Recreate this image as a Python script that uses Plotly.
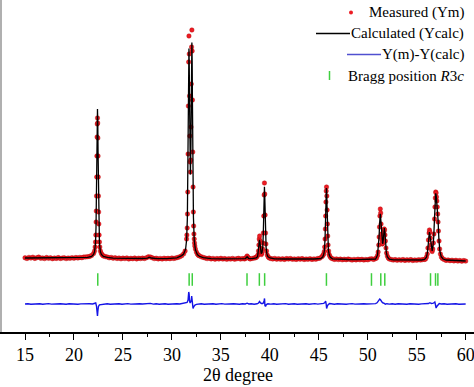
import plotly.graph_objects as go

# ---------------- data (intensity in arbitrary units) ----------------
measured = [
    (15.0, 74.2), (15.2, 73.5), (15.4, 74.6), (15.6, 73.9), (15.8, 74.8), (16.0, 73.6), (16.2, 74.3),
    (16.4, 74.9), (16.6, 73.8), (16.8, 74.1), (17.0, 73.4), (17.2, 74.5), (17.4, 73.7), (17.6, 74.2),
    (17.8, 73.3), (18.0, 74.0), (18.2, 73.6), (18.4, 74.4), (18.6, 73.5), (18.8, 73.9), (19.0, 74.2),
    (19.2, 73.4), (19.4, 74.0), (19.6, 73.7), (19.8, 74.3), (20.0, 73.8), (20.2, 74.5), (20.4, 74.0),
    (20.6, 74.6), (20.8, 74.3), (21.0, 74.9), (21.2, 75.1), (21.4, 75.3), (21.6, 75.6), (21.8, 76.6),
    (22.0, 78.5), (22.10, 81), (22.16, 85), (22.20, 90), (22.23, 97), (22.26, 110), (22.28, 121),
    (22.30, 136), (22.32, 155), (22.34, 176), (22.36, 195), (22.38, 208), (22.40, 214), (22.42, 209),
    (22.44, 194), (22.46, 176), (22.48, 155), (22.50, 136), (22.52, 120), (22.54, 108), (22.57, 97),
    (22.60, 90), (22.64, 85), (22.70, 81), (22.80, 78.5), (22.9, 77), (23.0, 76),
    (23.2, 75.4), (23.4, 75.0), (23.6, 74.2), (23.8, 74.6), (24.0, 73.8), (24.2, 74.3), (24.4, 73.5),
    (24.6, 74.0), (24.8, 73.2), (25.0, 73.9), (25.2, 73.4), (25.4, 74.1), (25.6, 73.0), (25.8, 73.7),
    (26.0, 73.3), (26.2, 74.0), (26.4, 73.1), (26.6, 73.8), (26.8, 73.4), (27.0, 73.9), (27.2, 73.5),
    (27.4, 74.3), (27.6, 75.2), (27.8, 75.0), (28.0, 74.2), (28.2, 73.4), (28.4, 73.8), (28.6, 73.1),
    (28.8, 73.6), (29.0, 73.0), (29.2, 73.8), (29.4, 73.2), (29.6, 73.7), (29.8, 73.3), (30.0, 74.0),
    (30.2, 73.5), (30.4, 74.1), (30.6, 74.5), (30.8, 75.2), (31.0, 76.3), (31.2, 78.2), (31.35, 81),
    (31.50, 93), (31.53, 97), (31.56, 104), (31.59, 118), (31.62, 140), (31.65, 178), (31.68, 226),
    (31.71, 270), (31.74, 296), (31.77, 278), (31.80, 236), (31.83, 196), (31.86, 170), (31.89, 160),
    (31.92, 172), (31.95, 205), (31.98, 248), (32.01, 285), (32.04, 302), (32.07, 281), (32.10, 232),
    (32.13, 180), (32.16, 145), (32.19, 120), (32.22, 106), (32.25, 98), (32.28, 93), (32.31, 89),
    (32.34, 86), (32.4, 83), (32.5, 80), (32.6, 78), (32.7, 76.8), (32.8, 76.2), (33.0, 75.2),
    (33.2, 74.6), (33.4, 74.0), (33.6, 73.4), (33.8, 73.9), (34.0, 73.1), (34.2, 73.6), (34.4, 72.8),
    (34.6, 73.5), (34.8, 73.0), (35.0, 73.7), (35.2, 72.9), (35.4, 73.4), (35.6, 72.7), (35.8, 73.3),
    (36.0, 72.9), (36.2, 73.6), (36.4, 72.8), (36.6, 73.2), (36.8, 73.7), (37.0, 72.9), (37.2, 73.4),
    (37.4, 73.1), (37.5, 73.6), (37.6, 74.6), (37.68, 76.0), (37.76, 74.8), (37.9, 73.5), (38.0, 73.1),
    (38.2, 73.6), (38.4, 73.9), (38.5, 74.3),
    (38.6, 74.5), (38.7, 75.5), (38.78, 77), (38.84, 81), (38.88, 87), (38.92, 93), (38.96, 96),
    (39.0, 91), (39.04, 84), (39.08, 79), (39.14, 77.5), (39.2, 79), (39.26, 83), (39.3, 89),
    (39.34, 99), (39.38, 116), (39.42, 137), (39.45, 149), (39.48, 138), (39.52, 117), (39.56, 99),
    (39.6, 88), (39.66, 81), (39.74, 77), (39.84, 75), (39.94, 74),
    (40.1, 73.5), (40.3, 73.0), (40.5, 73.6), (40.7, 72.8), (40.9, 73.3), (41.1, 72.7), (41.3, 73.2),
    (41.5, 72.6), (41.7, 73.4), (41.9, 72.9), (42.1, 73.5), (42.3, 72.7), (42.5, 73.1), (42.7, 72.6),
    (42.9, 73.3), (43.1, 72.8), (43.3, 73.4), (43.5, 72.5), (43.7, 73.0), (43.9, 72.7), (44.1, 73.3),
    (44.3, 72.6), (44.5, 73.1), (44.7, 72.8), (44.9, 73.5), (45.1, 73.8), (45.3, 75.2), (45.42, 76.5),
    (45.5, 78), (45.56, 80.5), (45.6, 85), (45.64, 93), (45.67, 103), (45.7, 116), (45.73, 130),
    (45.76, 141), (45.79, 145), (45.82, 136), (45.85, 122), (45.88, 108), (45.91, 96), (45.95, 87),
    (46.0, 81), (46.06, 77.5), (46.14, 75.5), (46.25, 74),
    (46.4, 73.3), (46.6, 72.6), (46.8, 73.1), (47.0, 72.4), (47.2, 72.9), (47.4, 72.2), (47.6, 72.8),
    (47.8, 72.3), (48.0, 73.0), (48.2, 72.5), (48.4, 71.9), (48.6, 72.6), (48.8, 72.1), (49.0, 72.8),
    (49.2, 72.2), (49.4, 72.7), (49.6, 72.0), (49.8, 72.5), (50.0, 72.2), (50.2, 72.9), (50.4, 73.2),
    (50.6, 72.6), (50.8, 73.4),
    (50.9, 74), (51.0, 76.5), (51.06, 80), (51.12, 87), (51.16, 95), (51.2, 105), (51.24, 116),
    (51.28, 123), (51.32, 119), (51.36, 108), (51.4, 98), (51.44, 92), (51.48, 88), (51.52, 88.5),
    (51.56, 91), (51.6, 95), (51.64, 100), (51.68, 103), (51.72, 102), (51.76, 97), (51.8, 91),
    (51.86, 84), (51.92, 79), (52.0, 76), (52.1, 74), (52.2, 73),
    (52.4, 72.5), (52.6, 71.9), (52.8, 72.4), (53.0, 71.7), (53.2, 72.3), (53.4, 71.8), (53.6, 72.5),
    (53.8, 71.6), (54.0, 72.2), (54.2, 71.8), (54.4, 72.4), (54.6, 71.5), (54.8, 72.1), (55.0, 71.7),
    (55.2, 72.3), (55.4, 71.9), (55.6, 72.4), (55.8, 72.6),
    (55.9, 73), (56.0, 75), (56.08, 78), (56.14, 84), (56.2, 92), (56.26, 99), (56.3, 102),
    (56.34, 100), (56.4, 94), (56.46, 87), (56.52, 82), (56.58, 80.5), (56.64, 83), (56.7, 89),
    (56.76, 98), (56.82, 113), (56.86, 125), (56.9, 134), (56.94, 140), (56.98, 139), (57.02, 135),
    (57.06, 131), (57.1, 125), (57.14, 118), (57.18, 110), (57.22, 101), (57.28, 91), (57.34, 83),
    (57.42, 78), (57.52, 75), (57.62, 73.5), (57.8, 72.5),
    (58.0, 71.6), (58.2, 72.1), (58.4, 71.3), (58.6, 71.8), (58.8, 71.1), (59.0, 71.7), (59.2, 70.9),
    (59.4, 71.5), (59.6, 70.8), (59.8, 71.4), (60.0, 70.9),
]

calculated = [
    (15.0, 74.0), (16.0, 74.0), (17.0, 73.9), (18.0, 73.9), (19.0, 73.9), (20.0, 74.0), (21.0, 74.3),
    (21.4, 74.6), (21.8, 75.6), (22.0, 77.6), (22.1, 80.3), (22.2, 89), (22.25, 104.5), (22.28, 122.6),
    (22.31, 148.5), (22.34, 180), (22.37, 210), (22.40, 223), (22.43, 210), (22.46, 180), (22.49, 148.5),
    (22.52, 122.6), (22.55, 104.5), (22.60, 89), (22.70, 80.3), (22.80, 77.6), (23.0, 75.6), (23.4, 74.6),
    (24.0, 73.9), (25.0, 73.6), (26.0, 73.5), (27.0, 73.5), (27.5, 73.9), (27.7, 74.8), (27.9, 74.0),
    (28.5, 73.4), (29.5, 73.3), (30.0, 73.5), (30.5, 74.2), (31.0, 76.4), (31.2, 78), (31.4, 83),
    (31.5, 92), (31.58, 114), (31.64, 167), (31.68, 223), (31.71, 265), (31.74, 283.6), (31.77, 268),
    (31.80, 232.5), (31.84, 182.7), (31.89, 157.4), (31.94, 185), (31.98, 236.6), (32.01, 273),
    (32.04, 289.4), (32.07, 270), (32.10, 227.6), (32.14, 170), (32.20, 114.6), (32.28, 92.3),
    (32.40, 82.2), (32.6, 77.5), (32.8, 75.7), (33.2, 74.3), (34.0, 73.4), (35.0, 73.2), (36.0, 73.1),
    (37.0, 73.1), (37.5, 73.3), (37.68, 75.3), (37.85, 73.5), (38.2, 73.3), (38.4, 73.4), (38.6, 74),
    (38.75, 75.4), (38.85, 81.7), (38.9, 88.2), (38.95, 92.2), (39.0, 88.6), (39.05, 82.6), (39.12, 78.4),
    (39.2, 79.3), (39.28, 85), (39.33, 96.9), (39.37, 113.7), (39.41, 133.8), (39.45, 145.3),
    (39.49, 133.3), (39.53, 113.2), (39.57, 96.4), (39.62, 84.4), (39.7, 78.1), (39.8, 75.3), (40.0, 74),
    (40.5, 73.2), (41.5, 73.0), (42.5, 72.9), (43.5, 72.9), (44.5, 73.0), (45.2, 73.5), (45.4, 74.9),
    (45.5, 77.5), (45.58, 81.8), (45.64, 94), (45.68, 108.3), (45.72, 126.5), (45.75, 139), (45.78, 144),
    (45.81, 139), (45.84, 126.5), (45.88, 108.3), (45.92, 94), (45.98, 81.8), (46.06, 77.5),
    (46.16, 74.9), (46.4, 73.2), (47.0, 72.7), (48.0, 72.5), (49.0, 72.4), (50.0, 72.4), (50.38, 73.0),
    (50.6, 72.6), (50.8, 73), (51.0, 77), (51.1, 86), (51.16, 96), (51.22, 110), (51.28, 118.3),
    (51.34, 111.4), (51.40, 98), (51.46, 90.3), (51.52, 88.2), (51.58, 91.6), (51.64, 99.9),
    (51.70, 103.9), (51.76, 98.4), (51.82, 88.6), (51.90, 79.3), (52.0, 75.2), (52.2, 72.8),
    (52.6, 72.2), (53.5, 72.0), (54.5, 72.0), (55.5, 72.0), (55.8, 72.5), (56.0, 74.8), (56.1, 80),
    (56.2, 91.5), (56.3, 100), (56.4, 93), (56.5, 83), (56.58, 81.1), (56.66, 85.8), (56.74, 95),
    (56.82, 114.8), (56.88, 130.9), (56.94, 138.6), (57.0, 135.4), (57.06, 129), (57.12, 123),
    (57.18, 112), (57.26, 94), (57.36, 81), (57.5, 75.3), (57.7, 73), (58.0, 72), (59.0, 71.4),
    (60.0, 71.0),
]

difference = [
    (15.0, 28.0), (15.3, 28.3), (15.6, 27.8), (15.9, 28.2), (16.2, 27.9), (16.5, 28.3), (16.8, 27.7),
    (17.1, 28.1), (17.4, 28.4), (17.7, 27.9), (18.0, 28.2), (18.3, 27.8), (18.6, 28.3), (18.9, 28.0),
    (19.2, 27.7), (19.5, 28.2), (19.8, 27.9), (20.1, 28.3), (20.4, 27.8), (20.7, 28.1), (21.0, 28.3),
    (21.3, 27.9), (21.6, 28.2), (21.9, 28.0), (22.1, 28.4), (22.22, 29.0), (22.3, 26.0), (22.36, 19.0),
    (22.40, 16.0), (22.44, 21.0), (22.5, 25.5), (22.6, 27.2), (22.8, 27.6), (23.1, 28.0), (23.4, 28.3),
    (23.7, 27.8), (24.0, 28.2), (24.3, 27.9), (24.6, 28.3), (24.9, 27.7), (25.2, 28.1), (25.5, 28.4),
    (25.8, 27.9), (26.1, 28.2), (26.4, 27.8), (26.7, 28.3), (27.0, 28.0), (27.3, 28.2), (27.6, 29.0),
    (27.8, 28.6), (28.1, 27.9), (28.4, 28.2), (28.7, 27.7), (29.0, 28.1), (29.3, 28.3), (29.6, 27.8),
    (29.9, 28.2), (30.2, 27.9), (30.5, 28.3), (30.8, 28.0), (31.1, 28.4), (31.4, 28.8), (31.55, 29.5),
    (31.65, 32), (31.72, 40), (31.76, 38), (31.8, 31), (31.86, 29), (31.92, 30), (31.98, 32),
    (32.02, 36), (32.06, 30), (32.1, 24), (32.16, 23.5), (32.24, 25.5), (32.35, 27), (32.5, 27.6),
    (32.7, 28.0), (33.0, 28.3), (33.3, 27.8), (33.6, 28.2), (33.9, 27.9), (34.2, 28.3), (34.5, 27.7),
    (34.8, 28.1), (35.1, 28.4), (35.4, 27.9), (35.7, 28.2), (36.0, 27.8), (36.3, 28.3), (36.6, 28.0),
    (36.9, 27.7), (37.2, 28.2), (37.5, 28.0), (37.68, 28.8), (37.85, 28.0), (38.1, 28.3), (38.4, 27.8),
    (38.7, 28.2), (38.85, 29.0), (38.95, 30.5), (39.05, 29.0), (39.2, 28.3), (39.35, 29.0),
    (39.42, 31.5), (39.46, 33.5), (39.5, 26.5), (39.56, 25.5), (39.65, 27.5), (39.8, 28.2),
    (40.1, 27.9), (40.4, 28.3), (40.7, 27.8), (41.0, 28.2), (41.3, 27.9), (41.6, 28.4), (41.9, 27.7),
    (42.2, 28.1), (42.5, 28.3), (42.8, 27.8), (43.1, 28.2), (43.4, 27.9), (43.7, 28.3), (44.0, 27.8),
    (44.3, 28.1), (44.6, 28.4), (44.9, 27.9), (45.2, 28.2), (45.5, 28.6), (45.62, 29.5), (45.7, 31.0),
    (45.76, 27.5), (45.8, 23.5), (45.86, 25.5), (45.95, 27.3), (46.1, 28.4), (46.3, 28.0), (46.6, 27.8),
    (46.9, 28.2), (47.2, 27.9), (47.5, 28.3), (47.8, 27.7), (48.1, 28.1), (48.4, 28.4), (48.7, 27.9),
    (49.0, 28.2), (49.3, 27.8), (49.6, 28.3), (49.9, 28.0), (50.2, 28.2), (50.5, 27.8), (50.8, 28.4),
    (50.95, 29.2), (51.05, 30.5), (51.15, 32.0), (51.22, 33.0), (51.3, 32.2), (51.4, 30.5), (51.5, 29.4),
    (51.6, 29.0), (51.7, 28.6), (51.8, 27.8), (51.95, 28.3), (52.2, 27.9), (52.5, 28.2), (52.8, 27.8),
    (53.1, 28.3), (53.4, 27.9), (53.7, 28.1), (54.0, 27.7), (54.3, 28.2), (54.6, 27.9), (54.9, 28.3),
    (55.2, 27.8), (55.5, 28.1), (55.8, 28.3), (56.0, 27.9), (56.2, 28.5), (56.35, 29.3), (56.5, 28.5),
    (56.7, 28.8), (56.85, 30.0), (56.92, 27.0), (56.98, 24.0), (57.05, 25.5), (57.15, 27.2),
    (57.3, 28.4), (57.5, 28.0), (57.8, 28.3), (58.1, 27.8), (58.4, 28.2), (58.7, 27.9), (59.0, 28.3),
    (59.3, 27.8), (59.6, 28.1), (60.0, 28.0),
]

bragg_positions = [22.43, 31.76, 32.08, 37.67, 38.93, 39.47, 45.78, 50.38, 51.33, 51.74, 56.41, 56.92, 57.16]
bragg_level = 52.5

x_ticks = [15, 20, 25, 30, 35, 40, 45, 50, 55, 60]

legend_labels = ["Measured (Ym)", "Calculated (Ycalc)", "Y(m)-Y(calc)", "Bragg position <i>R</i>3<i>c</i>"]

# ---------------- figure ----------------
W, H = 474, 387
ML, MR, MT, MB = 2, 0, 0, 55
PW, PH = W - ML - MR, H - MT - MB

mx, my = zip(*measured)
cx, cy = zip(*calculated)
dx, dy = zip(*difference)

RED = "#ec1c24"
BLUE = "#1414e6"
GREEN = "#3fcf3f"
SERIF = "Liberation Serif, Times New Roman, serif"

fig = go.Figure()
fig.add_trace(go.Scatter(x=mx, y=my, mode="markers",
                         marker=dict(size=4.5, color=RED, line=dict(width=0.4, color="#b00000")),
                         hoverinfo="skip"))
fig.add_trace(go.Scatter(x=cx, y=cy, mode="lines", line=dict(color="black", width=1.3),
                         hoverinfo="skip"))
fig.add_trace(go.Scatter(x=dx, y=dy, mode="lines", line=dict(color=BLUE, width=1.4),
                         hoverinfo="skip"))
fig.add_trace(go.Scatter(x=bragg_positions, y=[bragg_level] * len(bragg_positions), mode="markers",
                         marker=dict(symbol="line-ns-open", size=9, color=GREEN,
                                     line=dict(color=GREEN, width=1.5)),
                         hoverinfo="skip"))


def px(xp):
    return (xp - ML) / PW


def py(yp):
    return (MT + PH - yp) / PH


# legend drawn manually (right aligned texts)
leg_rows = [12.5, 33.5, 54.5, 75.5]
for lab, yy in zip(legend_labels, leg_rows):
    fig.add_annotation(x=px(466), y=py(yy), xref="paper", yref="paper", text=lab,
                       showarrow=False, xanchor="right", yanchor="middle",
                       font=dict(family=SERIF, size=15, color="black"))
fig.add_shape(type="circle", xref="paper", yref="paper",
              x0=px(349), x1=px(353), y0=py(14.5), y1=py(10.5),
              fillcolor=RED, line=dict(width=0))
fig.add_shape(type="line", xref="paper", yref="paper", x0=px(316), x1=px(350),
              y0=py(33.5), y1=py(33.5), line=dict(color="black", width=1.3))
fig.add_shape(type="line", xref="paper", yref="paper", x0=px(347), x1=px(381),
              y0=py(54.5), y1=py(54.5), line=dict(color="#5050d0", width=1.3))
fig.add_shape(type="line", xref="paper", yref="paper", x0=px(329.5), x1=px(329.5),
              y0=py(71), y1=py(80), line=dict(color=GREEN, width=1.5))

fig.update_layout(
    width=W, height=H,
    margin=dict(l=ML, r=MR, t=MT, b=MB),
    paper_bgcolor="white", plot_bgcolor="white",
    showlegend=False,
    xaxis=dict(
        range=[12.65, 60.85], tickvals=x_ticks, ticktext=[str(t) for t in x_ticks],
        showline=True, linecolor="black", linewidth=1.5,
        ticks="outside", ticklen=6, tickwidth=1.3, tickcolor="black",
        minor=dict(ticks="outside", ticklen=3, tickwidth=1.2, tickcolor="black", dtick=2.5, tick0=15),
        showgrid=False, zeroline=False, ticklabeloverflow="allow",
        tickfont=dict(family=SERIF, size=18, color="black"),
        title=dict(text="2θ degree", font=dict(family=SERIF, size=18, color="black"), standoff=3),
    ),
    yaxis=dict(
        range=[0, 332], showline=True, linecolor="#b0b0b0", linewidth=2,
        showticklabels=False, ticks="", showgrid=False, zeroline=False,
    ),
)

fig.write_html("out.html", config={"displayModeBar": False},
               post_script="document.body.style.margin='0';document.body.style.padding='0';")
